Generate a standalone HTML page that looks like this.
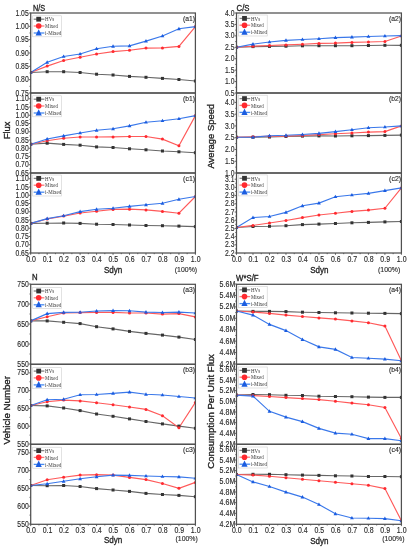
<!DOCTYPE html>
<html><head><meta charset="utf-8"><style>
html,body{margin:0;padding:0;background:#fff;width:410px;height:550px;overflow:hidden}
svg{display:block;will-change:transform}
text{lengthAdjust:spacingAndGlyphs}
.t{font-family:"Liberation Sans",sans-serif;fill:#2a2a2a;stroke:#2a2a2a;stroke-width:0.14px}
.b{font-family:"Liberation Sans",sans-serif;fill:#222;stroke:#222;stroke-width:0.32px}
.s{font-family:"Liberation Serif",serif;fill:#3a3a3a}
</style></head><body>
<svg width="410" height="550" viewBox="0 0 410 550">
<rect width="410" height="550" fill="#fff"/>
<rect x="32.70" y="15.80" width="28.7" height="21.0" fill="#fff" stroke="#d0d0d0" stroke-width="0.6"/>
<path d="M33.70 19.20H44.40" stroke="#858585" stroke-width="1.3"/>
<path d="M33.70 26.00H44.40" stroke="#ff7a7a" stroke-width="1.3"/>
<path d="M33.70 33.00H44.40" stroke="#4a8cf0" stroke-width="1.3"/>
<g fill="#333333"><rect x="36.30" y="16.80" width="4.80" height="4.80"/></g>
<g fill="#ff2a30"><circle cx="38.70" cy="26.00" r="2.80"/></g>
<g fill="#1a5ce0"><path d="M38.70 29.22L41.80 35.52L35.60 35.52Z"/></g>
<text class="s" x="45.10" y="21.40" font-size="6.4" lengthAdjust="spacingAndGlyphs" textLength="9.20">HVs</text>
<text class="s" x="45.10" y="28.20" font-size="6.4" lengthAdjust="spacingAndGlyphs" textLength="12.80">Mixed</text>
<text class="s" x="45.10" y="35.20" font-size="6.4" lengthAdjust="spacingAndGlyphs" textLength="16.20">i-Mixed</text>
<clipPath id="ka1"><rect x="30.70" y="13.00" width="164.70" height="80.00"/></clipPath><g clip-path="url(#ka1)">
<polyline points="30.70,72.50 47.17,71.70 63.64,71.70 80.11,72.50 96.58,74.20 113.05,75.00 129.52,76.40 145.99,77.30 162.46,78.40 178.93,79.50 195.40,81.00" fill="none" stroke="#666666" stroke-width="1.15"/>
<polyline points="30.70,72.50 47.17,66.10 63.64,60.50 80.11,57.20 96.58,54.00 113.05,51.60 129.52,50.30 145.99,48.10 162.46,47.90 178.93,46.40 195.40,26.60" fill="none" stroke="#ff5a5a" stroke-width="1.15"/>
<polyline points="30.70,72.50 47.17,62.30 63.64,56.50 80.11,54.00 96.58,48.70 113.05,46.30 129.52,45.90 145.99,41.10 162.46,36.00 178.93,28.80 195.40,26.60" fill="none" stroke="#3a78ea" stroke-width="1.15"/>
<g fill="#333333"><rect x="29.20" y="71.00" width="3.00" height="3.00"/><rect x="45.67" y="70.20" width="3.00" height="3.00"/><rect x="62.14" y="70.20" width="3.00" height="3.00"/><rect x="78.61" y="71.00" width="3.00" height="3.00"/><rect x="95.08" y="72.70" width="3.00" height="3.00"/><rect x="111.55" y="73.50" width="3.00" height="3.00"/><rect x="128.02" y="74.90" width="3.00" height="3.00"/><rect x="144.49" y="75.80" width="3.00" height="3.00"/><rect x="160.96" y="76.90" width="3.00" height="3.00"/><rect x="177.43" y="78.00" width="3.00" height="3.00"/><rect x="193.90" y="79.50" width="3.00" height="3.00"/></g>
<g fill="#ff2a30"><circle cx="30.70" cy="72.50" r="1.50"/><circle cx="47.17" cy="66.10" r="1.50"/><circle cx="63.64" cy="60.50" r="1.50"/><circle cx="80.11" cy="57.20" r="1.50"/><circle cx="96.58" cy="54.00" r="1.50"/><circle cx="113.05" cy="51.60" r="1.50"/><circle cx="129.52" cy="50.30" r="1.50"/><circle cx="145.99" cy="48.10" r="1.50"/><circle cx="162.46" cy="47.90" r="1.50"/><circle cx="178.93" cy="46.40" r="1.50"/><circle cx="195.40" cy="26.60" r="1.50"/></g>
<g fill="#1a5ce0"><path d="M30.70 70.46L32.60 73.86L28.80 73.86Z"/><path d="M47.17 60.26L49.07 63.66L45.27 63.66Z"/><path d="M63.64 54.46L65.54 57.86L61.74 57.86Z"/><path d="M80.11 51.96L82.01 55.36L78.21 55.36Z"/><path d="M96.58 46.66L98.48 50.06L94.68 50.06Z"/><path d="M113.05 44.26L114.95 47.66L111.15 47.66Z"/><path d="M129.52 43.86L131.42 47.26L127.62 47.26Z"/><path d="M145.99 39.06L147.89 42.46L144.09 42.46Z"/><path d="M162.46 33.96L164.36 37.36L160.56 37.36Z"/><path d="M178.93 26.76L180.83 30.16L177.03 30.16Z"/><path d="M195.40 24.56L197.30 27.96L193.50 27.96Z"/></g>
</g>
<rect x="30.70" y="13.00" width="164.70" height="80.00" fill="none" stroke="#505050" stroke-width="1.25"/>
<path d="M28.90 93.00H30.70M28.90 79.67H30.70M28.90 66.33H30.70M28.90 53.00H30.70M28.90 39.67H30.70M28.90 26.33H30.70M28.90 13.00H30.70M29.50 86.33H30.70M29.50 73.00H30.70M29.50 59.67H30.70M29.50 46.33H30.70M29.50 33.00H30.70M29.50 19.67H30.70" stroke="#505050" stroke-width="0.9"/>
<text class="t" x="28.70" y="95.60" font-size="8.4" text-anchor="end" lengthAdjust="spacingAndGlyphs" textLength="13.24">0.75</text>
<text class="t" x="28.70" y="82.27" font-size="8.4" text-anchor="end" lengthAdjust="spacingAndGlyphs" textLength="13.24">0.80</text>
<text class="t" x="28.70" y="68.93" font-size="8.4" text-anchor="end" lengthAdjust="spacingAndGlyphs" textLength="13.24">0.85</text>
<text class="t" x="28.70" y="55.60" font-size="8.4" text-anchor="end" lengthAdjust="spacingAndGlyphs" textLength="13.24">0.90</text>
<text class="t" x="28.70" y="42.27" font-size="8.4" text-anchor="end" lengthAdjust="spacingAndGlyphs" textLength="13.24">0.95</text>
<text class="t" x="28.70" y="28.93" font-size="8.4" text-anchor="end" lengthAdjust="spacingAndGlyphs" textLength="13.24">1.00</text>
<text class="t" x="28.70" y="15.60" font-size="8.4" text-anchor="end" lengthAdjust="spacingAndGlyphs" textLength="13.24">1.05</text>
<text class="t" x="195.10" y="21.00" font-size="8.0" text-anchor="end" lengthAdjust="spacingAndGlyphs" textLength="12.00">(a1)</text>
<rect x="32.70" y="95.80" width="28.7" height="21.0" fill="#fff" stroke="#d0d0d0" stroke-width="0.6"/>
<path d="M33.70 99.20H44.40" stroke="#858585" stroke-width="1.3"/>
<path d="M33.70 106.00H44.40" stroke="#ff7a7a" stroke-width="1.3"/>
<path d="M33.70 113.00H44.40" stroke="#4a8cf0" stroke-width="1.3"/>
<g fill="#333333"><rect x="36.30" y="96.80" width="4.80" height="4.80"/></g>
<g fill="#ff2a30"><circle cx="38.70" cy="106.00" r="2.80"/></g>
<g fill="#1a5ce0"><path d="M38.70 109.22L41.80 115.52L35.60 115.52Z"/></g>
<text class="s" x="45.10" y="101.40" font-size="6.4" lengthAdjust="spacingAndGlyphs" textLength="9.20">HVs</text>
<text class="s" x="45.10" y="108.20" font-size="6.4" lengthAdjust="spacingAndGlyphs" textLength="12.80">Mixed</text>
<text class="s" x="45.10" y="115.20" font-size="6.4" lengthAdjust="spacingAndGlyphs" textLength="16.20">i-Mixed</text>
<clipPath id="kb1"><rect x="30.70" y="93.00" width="164.70" height="80.00"/></clipPath><g clip-path="url(#kb1)">
<polyline points="30.70,144.20 47.17,143.20 63.64,144.40 80.11,145.20 96.58,146.90 113.05,147.50 129.52,148.80 145.99,149.80 162.46,151.00 178.93,151.80 195.40,152.70" fill="none" stroke="#666666" stroke-width="1.15"/>
<polyline points="30.70,144.20 47.17,140.70 63.64,138.20 80.11,137.00 96.58,137.00 113.05,136.90 129.52,136.50 145.99,136.50 162.46,139.10 178.93,145.70 195.40,115.60" fill="none" stroke="#ff5a5a" stroke-width="1.15"/>
<polyline points="30.70,144.20 47.17,139.00 63.64,135.90 80.11,133.00 96.58,130.30 113.05,128.80 129.52,125.90 145.99,122.20 162.46,120.70 178.93,118.70 195.40,115.60" fill="none" stroke="#3a78ea" stroke-width="1.15"/>
<g fill="#333333"><rect x="29.20" y="142.70" width="3.00" height="3.00"/><rect x="45.67" y="141.70" width="3.00" height="3.00"/><rect x="62.14" y="142.90" width="3.00" height="3.00"/><rect x="78.61" y="143.70" width="3.00" height="3.00"/><rect x="95.08" y="145.40" width="3.00" height="3.00"/><rect x="111.55" y="146.00" width="3.00" height="3.00"/><rect x="128.02" y="147.30" width="3.00" height="3.00"/><rect x="144.49" y="148.30" width="3.00" height="3.00"/><rect x="160.96" y="149.50" width="3.00" height="3.00"/><rect x="177.43" y="150.30" width="3.00" height="3.00"/><rect x="193.90" y="151.20" width="3.00" height="3.00"/></g>
<g fill="#ff2a30"><circle cx="30.70" cy="144.20" r="1.50"/><circle cx="47.17" cy="140.70" r="1.50"/><circle cx="63.64" cy="138.20" r="1.50"/><circle cx="80.11" cy="137.00" r="1.50"/><circle cx="96.58" cy="137.00" r="1.50"/><circle cx="113.05" cy="136.90" r="1.50"/><circle cx="129.52" cy="136.50" r="1.50"/><circle cx="145.99" cy="136.50" r="1.50"/><circle cx="162.46" cy="139.10" r="1.50"/><circle cx="178.93" cy="145.70" r="1.50"/><circle cx="195.40" cy="115.60" r="1.50"/></g>
<g fill="#1a5ce0"><path d="M30.70 142.16L32.60 145.56L28.80 145.56Z"/><path d="M47.17 136.96L49.07 140.36L45.27 140.36Z"/><path d="M63.64 133.86L65.54 137.26L61.74 137.26Z"/><path d="M80.11 130.96L82.01 134.36L78.21 134.36Z"/><path d="M96.58 128.26L98.48 131.66L94.68 131.66Z"/><path d="M113.05 126.76L114.95 130.16L111.15 130.16Z"/><path d="M129.52 123.86L131.42 127.26L127.62 127.26Z"/><path d="M145.99 120.16L147.89 123.56L144.09 123.56Z"/><path d="M162.46 118.66L164.36 122.06L160.56 122.06Z"/><path d="M178.93 116.66L180.83 120.06L177.03 120.06Z"/><path d="M195.40 113.56L197.30 116.96L193.50 116.96Z"/></g>
</g>
<rect x="30.70" y="93.00" width="164.70" height="80.00" fill="none" stroke="#505050" stroke-width="1.25"/>
<path d="M28.90 173.00H30.70M28.90 164.75H30.70M28.90 156.50H30.70M28.90 148.25H30.70M28.90 140.00H30.70M28.90 131.75H30.70M28.90 123.50H30.70M28.90 115.25H30.70M28.90 107.00H30.70M28.90 98.75H30.70M29.50 168.88H30.70M29.50 160.62H30.70M29.50 152.38H30.70M29.50 144.12H30.70M29.50 135.88H30.70M29.50 127.62H30.70M29.50 119.37H30.70M29.50 111.13H30.70M29.50 102.87H30.70" stroke="#505050" stroke-width="0.9"/>
<text class="t" x="28.70" y="175.60" font-size="8.4" text-anchor="end" lengthAdjust="spacingAndGlyphs" textLength="13.24">0.65</text>
<text class="t" x="28.70" y="167.35" font-size="8.4" text-anchor="end" lengthAdjust="spacingAndGlyphs" textLength="13.24">0.70</text>
<text class="t" x="28.70" y="159.10" font-size="8.4" text-anchor="end" lengthAdjust="spacingAndGlyphs" textLength="13.24">0.75</text>
<text class="t" x="28.70" y="150.85" font-size="8.4" text-anchor="end" lengthAdjust="spacingAndGlyphs" textLength="13.24">0.80</text>
<text class="t" x="28.70" y="142.60" font-size="8.4" text-anchor="end" lengthAdjust="spacingAndGlyphs" textLength="13.24">0.85</text>
<text class="t" x="28.70" y="134.35" font-size="8.4" text-anchor="end" lengthAdjust="spacingAndGlyphs" textLength="13.24">0.90</text>
<text class="t" x="28.70" y="126.10" font-size="8.4" text-anchor="end" lengthAdjust="spacingAndGlyphs" textLength="13.24">0.95</text>
<text class="t" x="28.70" y="117.85" font-size="8.4" text-anchor="end" lengthAdjust="spacingAndGlyphs" textLength="13.24">1.00</text>
<text class="t" x="28.70" y="109.60" font-size="8.4" text-anchor="end" lengthAdjust="spacingAndGlyphs" textLength="13.24">1.05</text>
<text class="t" x="28.70" y="101.35" font-size="8.4" text-anchor="end" lengthAdjust="spacingAndGlyphs" textLength="13.24">1.10</text>
<text class="t" x="195.10" y="101.00" font-size="8.0" text-anchor="end" lengthAdjust="spacingAndGlyphs" textLength="12.00">(b1)</text>
<rect x="32.70" y="175.00" width="28.7" height="21.0" fill="#fff" stroke="#d0d0d0" stroke-width="0.6"/>
<path d="M33.70 178.40H44.40" stroke="#858585" stroke-width="1.3"/>
<path d="M33.70 185.20H44.40" stroke="#ff7a7a" stroke-width="1.3"/>
<path d="M33.70 192.20H44.40" stroke="#4a8cf0" stroke-width="1.3"/>
<g fill="#333333"><rect x="36.30" y="176.00" width="4.80" height="4.80"/></g>
<g fill="#ff2a30"><circle cx="38.70" cy="185.20" r="2.80"/></g>
<g fill="#1a5ce0"><path d="M38.70 188.42L41.80 194.72L35.60 194.72Z"/></g>
<text class="s" x="45.10" y="180.60" font-size="6.4" lengthAdjust="spacingAndGlyphs" textLength="9.20">HVs</text>
<text class="s" x="45.10" y="187.40" font-size="6.4" lengthAdjust="spacingAndGlyphs" textLength="12.80">Mixed</text>
<text class="s" x="45.10" y="194.40" font-size="6.4" lengthAdjust="spacingAndGlyphs" textLength="16.20">i-Mixed</text>
<clipPath id="kc1"><rect x="30.70" y="173.00" width="164.70" height="80.00"/></clipPath><g clip-path="url(#kc1)">
<polyline points="30.70,223.40 47.17,223.20 63.64,223.00 80.11,223.40 96.58,224.20 113.05,224.50 129.52,225.00 145.99,225.50 162.46,225.70 178.93,226.10 195.40,226.60" fill="none" stroke="#666666" stroke-width="1.15"/>
<polyline points="30.70,223.40 47.17,219.00 63.64,216.10 80.11,213.00 96.58,211.30 113.05,209.40 129.52,209.20 145.99,209.90 162.46,211.40 178.93,213.20 195.40,196.50" fill="none" stroke="#ff5a5a" stroke-width="1.15"/>
<polyline points="30.70,223.40 47.17,218.60 63.64,215.70 80.11,211.60 96.58,209.30 113.05,208.20 129.52,206.40 145.99,204.80 162.46,203.30 178.93,199.30 195.40,196.50" fill="none" stroke="#3a78ea" stroke-width="1.15"/>
<g fill="#333333"><rect x="29.20" y="221.90" width="3.00" height="3.00"/><rect x="45.67" y="221.70" width="3.00" height="3.00"/><rect x="62.14" y="221.50" width="3.00" height="3.00"/><rect x="78.61" y="221.90" width="3.00" height="3.00"/><rect x="95.08" y="222.70" width="3.00" height="3.00"/><rect x="111.55" y="223.00" width="3.00" height="3.00"/><rect x="128.02" y="223.50" width="3.00" height="3.00"/><rect x="144.49" y="224.00" width="3.00" height="3.00"/><rect x="160.96" y="224.20" width="3.00" height="3.00"/><rect x="177.43" y="224.60" width="3.00" height="3.00"/><rect x="193.90" y="225.10" width="3.00" height="3.00"/></g>
<g fill="#ff2a30"><circle cx="30.70" cy="223.40" r="1.50"/><circle cx="47.17" cy="219.00" r="1.50"/><circle cx="63.64" cy="216.10" r="1.50"/><circle cx="80.11" cy="213.00" r="1.50"/><circle cx="96.58" cy="211.30" r="1.50"/><circle cx="113.05" cy="209.40" r="1.50"/><circle cx="129.52" cy="209.20" r="1.50"/><circle cx="145.99" cy="209.90" r="1.50"/><circle cx="162.46" cy="211.40" r="1.50"/><circle cx="178.93" cy="213.20" r="1.50"/><circle cx="195.40" cy="196.50" r="1.50"/></g>
<g fill="#1a5ce0"><path d="M30.70 221.36L32.60 224.76L28.80 224.76Z"/><path d="M47.17 216.56L49.07 219.96L45.27 219.96Z"/><path d="M63.64 213.66L65.54 217.06L61.74 217.06Z"/><path d="M80.11 209.56L82.01 212.96L78.21 212.96Z"/><path d="M96.58 207.26L98.48 210.66L94.68 210.66Z"/><path d="M113.05 206.16L114.95 209.56L111.15 209.56Z"/><path d="M129.52 204.36L131.42 207.76L127.62 207.76Z"/><path d="M145.99 202.76L147.89 206.16L144.09 206.16Z"/><path d="M162.46 201.26L164.36 204.66L160.56 204.66Z"/><path d="M178.93 197.26L180.83 200.66L177.03 200.66Z"/><path d="M195.40 194.46L197.30 197.86L193.50 197.86Z"/></g>
</g>
<rect x="30.70" y="173.00" width="164.70" height="80.00" fill="none" stroke="#505050" stroke-width="1.25"/>
<path d="M28.90 253.00H30.70M28.90 244.75H30.70M28.90 236.50H30.70M28.90 228.25H30.70M28.90 220.00H30.70M28.90 211.75H30.70M28.90 203.50H30.70M28.90 195.25H30.70M28.90 187.00H30.70M28.90 178.75H30.70M29.50 248.88H30.70M29.50 240.62H30.70M29.50 232.38H30.70M29.50 224.12H30.70M29.50 215.88H30.70M29.50 207.62H30.70M29.50 199.38H30.70M29.50 191.13H30.70M29.50 182.87H30.70" stroke="#505050" stroke-width="0.9"/>
<text class="t" x="28.70" y="255.60" font-size="8.4" text-anchor="end" lengthAdjust="spacingAndGlyphs" textLength="13.24">0.65</text>
<text class="t" x="28.70" y="247.35" font-size="8.4" text-anchor="end" lengthAdjust="spacingAndGlyphs" textLength="13.24">0.70</text>
<text class="t" x="28.70" y="239.10" font-size="8.4" text-anchor="end" lengthAdjust="spacingAndGlyphs" textLength="13.24">0.75</text>
<text class="t" x="28.70" y="230.85" font-size="8.4" text-anchor="end" lengthAdjust="spacingAndGlyphs" textLength="13.24">0.80</text>
<text class="t" x="28.70" y="222.60" font-size="8.4" text-anchor="end" lengthAdjust="spacingAndGlyphs" textLength="13.24">0.85</text>
<text class="t" x="28.70" y="214.35" font-size="8.4" text-anchor="end" lengthAdjust="spacingAndGlyphs" textLength="13.24">0.90</text>
<text class="t" x="28.70" y="206.10" font-size="8.4" text-anchor="end" lengthAdjust="spacingAndGlyphs" textLength="13.24">0.95</text>
<text class="t" x="28.70" y="197.85" font-size="8.4" text-anchor="end" lengthAdjust="spacingAndGlyphs" textLength="13.24">1.00</text>
<text class="t" x="28.70" y="189.60" font-size="8.4" text-anchor="end" lengthAdjust="spacingAndGlyphs" textLength="13.24">1.05</text>
<text class="t" x="28.70" y="181.35" font-size="8.4" text-anchor="end" lengthAdjust="spacingAndGlyphs" textLength="13.24">1.10</text>
<text class="t" x="195.10" y="181.00" font-size="8.0" text-anchor="end" lengthAdjust="spacingAndGlyphs" textLength="12.00">(c1)</text>
<rect x="238.50" y="15.00" width="28.7" height="21.0" fill="#fff" stroke="#d0d0d0" stroke-width="0.6"/>
<path d="M239.50 18.40H250.20" stroke="#858585" stroke-width="1.3"/>
<path d="M239.50 25.20H250.20" stroke="#ff7a7a" stroke-width="1.3"/>
<path d="M239.50 32.20H250.20" stroke="#4a8cf0" stroke-width="1.3"/>
<g fill="#333333"><rect x="242.10" y="16.00" width="4.80" height="4.80"/></g>
<g fill="#ff2a30"><circle cx="244.50" cy="25.20" r="2.80"/></g>
<g fill="#1a5ce0"><path d="M244.50 28.42L247.60 34.72L241.40 34.72Z"/></g>
<text class="s" x="250.90" y="20.60" font-size="6.4" lengthAdjust="spacingAndGlyphs" textLength="9.20">HVs</text>
<text class="s" x="250.90" y="27.40" font-size="6.4" lengthAdjust="spacingAndGlyphs" textLength="12.80">Mixed</text>
<text class="s" x="250.90" y="34.40" font-size="6.4" lengthAdjust="spacingAndGlyphs" textLength="16.20">i-Mixed</text>
<clipPath id="ka2"><rect x="236.50" y="13.00" width="164.90" height="80.00"/></clipPath><g clip-path="url(#ka2)">
<polyline points="236.50,47.20 252.99,46.60 269.48,46.40 285.97,46.20 302.46,45.80 318.95,45.70 335.44,45.70 351.93,45.70 368.42,45.50 384.91,45.30 401.40,45.30" fill="none" stroke="#666666" stroke-width="1.15"/>
<polyline points="236.50,47.20 252.99,46.20 269.48,45.50 285.97,44.90 302.46,44.30 318.95,43.40 335.44,43.10 351.93,42.40 368.42,42.00 384.91,41.50 401.40,36.00" fill="none" stroke="#ff5a5a" stroke-width="1.15"/>
<polyline points="236.50,47.20 252.99,44.10 269.48,42.00 285.97,40.40 302.46,39.50 318.95,38.70 335.44,37.60 351.93,37.10 368.42,36.50 384.91,36.00 401.40,35.60" fill="none" stroke="#3a78ea" stroke-width="1.15"/>
<g fill="#333333"><rect x="235.00" y="45.70" width="3.00" height="3.00"/><rect x="251.49" y="45.10" width="3.00" height="3.00"/><rect x="267.98" y="44.90" width="3.00" height="3.00"/><rect x="284.47" y="44.70" width="3.00" height="3.00"/><rect x="300.96" y="44.30" width="3.00" height="3.00"/><rect x="317.45" y="44.20" width="3.00" height="3.00"/><rect x="333.94" y="44.20" width="3.00" height="3.00"/><rect x="350.43" y="44.20" width="3.00" height="3.00"/><rect x="366.92" y="44.00" width="3.00" height="3.00"/><rect x="383.41" y="43.80" width="3.00" height="3.00"/><rect x="399.90" y="43.80" width="3.00" height="3.00"/></g>
<g fill="#ff2a30"><circle cx="236.50" cy="47.20" r="1.50"/><circle cx="252.99" cy="46.20" r="1.50"/><circle cx="269.48" cy="45.50" r="1.50"/><circle cx="285.97" cy="44.90" r="1.50"/><circle cx="302.46" cy="44.30" r="1.50"/><circle cx="318.95" cy="43.40" r="1.50"/><circle cx="335.44" cy="43.10" r="1.50"/><circle cx="351.93" cy="42.40" r="1.50"/><circle cx="368.42" cy="42.00" r="1.50"/><circle cx="384.91" cy="41.50" r="1.50"/><circle cx="401.40" cy="36.00" r="1.50"/></g>
<g fill="#1a5ce0"><path d="M236.50 45.16L238.40 48.56L234.60 48.56Z"/><path d="M252.99 42.06L254.89 45.46L251.09 45.46Z"/><path d="M269.48 39.96L271.38 43.36L267.58 43.36Z"/><path d="M285.97 38.36L287.87 41.76L284.07 41.76Z"/><path d="M302.46 37.46L304.36 40.86L300.56 40.86Z"/><path d="M318.95 36.66L320.85 40.06L317.05 40.06Z"/><path d="M335.44 35.56L337.34 38.96L333.54 38.96Z"/><path d="M351.93 35.06L353.83 38.46L350.03 38.46Z"/><path d="M368.42 34.46L370.32 37.86L366.52 37.86Z"/><path d="M384.91 33.96L386.81 37.36L383.01 37.36Z"/><path d="M401.40 33.56L403.30 36.96L399.50 36.96Z"/></g>
</g>
<rect x="236.50" y="13.00" width="164.90" height="80.00" fill="none" stroke="#505050" stroke-width="1.25"/>
<path d="M234.70 93.00H236.50M234.70 81.57H236.50M234.70 70.14H236.50M234.70 58.71H236.50M234.70 47.29H236.50M234.70 35.86H236.50M234.70 24.43H236.50M234.70 13.00H236.50M235.30 87.29H236.50M235.30 75.86H236.50M235.30 64.43H236.50M235.30 53.00H236.50M235.30 41.57H236.50M235.30 30.14H236.50M235.30 18.71H236.50" stroke="#505050" stroke-width="0.9"/>
<text class="t" x="234.50" y="95.60" font-size="8.4" text-anchor="end" lengthAdjust="spacingAndGlyphs" textLength="9.46">0.5</text>
<text class="t" x="234.50" y="84.17" font-size="8.4" text-anchor="end" lengthAdjust="spacingAndGlyphs" textLength="9.46">1.0</text>
<text class="t" x="234.50" y="72.74" font-size="8.4" text-anchor="end" lengthAdjust="spacingAndGlyphs" textLength="9.46">1.5</text>
<text class="t" x="234.50" y="61.31" font-size="8.4" text-anchor="end" lengthAdjust="spacingAndGlyphs" textLength="9.46">2.0</text>
<text class="t" x="234.50" y="49.89" font-size="8.4" text-anchor="end" lengthAdjust="spacingAndGlyphs" textLength="9.46">2.5</text>
<text class="t" x="234.50" y="38.46" font-size="8.4" text-anchor="end" lengthAdjust="spacingAndGlyphs" textLength="9.46">3.0</text>
<text class="t" x="234.50" y="27.03" font-size="8.4" text-anchor="end" lengthAdjust="spacingAndGlyphs" textLength="9.46">3.5</text>
<text class="t" x="234.50" y="15.60" font-size="8.4" text-anchor="end" lengthAdjust="spacingAndGlyphs" textLength="9.46">4.0</text>
<text class="t" x="401.10" y="21.00" font-size="8.0" text-anchor="end" lengthAdjust="spacingAndGlyphs" textLength="12.00">(a2)</text>
<rect x="238.50" y="95.20" width="28.7" height="21.0" fill="#fff" stroke="#d0d0d0" stroke-width="0.6"/>
<path d="M239.50 98.60H250.20" stroke="#858585" stroke-width="1.3"/>
<path d="M239.50 105.40H250.20" stroke="#ff7a7a" stroke-width="1.3"/>
<path d="M239.50 112.40H250.20" stroke="#4a8cf0" stroke-width="1.3"/>
<g fill="#333333"><rect x="242.10" y="96.20" width="4.80" height="4.80"/></g>
<g fill="#ff2a30"><circle cx="244.50" cy="105.40" r="2.80"/></g>
<g fill="#1a5ce0"><path d="M244.50 108.62L247.60 114.92L241.40 114.92Z"/></g>
<text class="s" x="250.90" y="100.80" font-size="6.4" lengthAdjust="spacingAndGlyphs" textLength="9.20">HVs</text>
<text class="s" x="250.90" y="107.60" font-size="6.4" lengthAdjust="spacingAndGlyphs" textLength="12.80">Mixed</text>
<text class="s" x="250.90" y="114.60" font-size="6.4" lengthAdjust="spacingAndGlyphs" textLength="16.20">i-Mixed</text>
<clipPath id="kb2"><rect x="236.50" y="93.00" width="164.90" height="80.00"/></clipPath><g clip-path="url(#kb2)">
<polyline points="236.50,137.20 252.99,137.20 269.48,137.00 285.97,136.50 302.46,136.10 318.95,135.90 335.44,136.00 351.93,135.80 368.42,135.60 384.91,135.40 401.40,135.10" fill="none" stroke="#666666" stroke-width="1.15"/>
<polyline points="236.50,137.20 252.99,136.70 269.48,136.30 285.97,136.10 302.46,135.50 318.95,134.60 335.44,133.80 351.93,133.00 368.42,132.10 384.91,131.60 401.40,125.90" fill="none" stroke="#ff5a5a" stroke-width="1.15"/>
<polyline points="236.50,137.20 252.99,137.20 269.48,135.70 285.97,135.30 302.46,134.50 318.95,133.40 335.44,131.60 351.93,129.70 368.42,127.70 384.91,127.00 401.40,125.90" fill="none" stroke="#3a78ea" stroke-width="1.15"/>
<g fill="#333333"><rect x="235.00" y="135.70" width="3.00" height="3.00"/><rect x="251.49" y="135.70" width="3.00" height="3.00"/><rect x="267.98" y="135.50" width="3.00" height="3.00"/><rect x="284.47" y="135.00" width="3.00" height="3.00"/><rect x="300.96" y="134.60" width="3.00" height="3.00"/><rect x="317.45" y="134.40" width="3.00" height="3.00"/><rect x="333.94" y="134.50" width="3.00" height="3.00"/><rect x="350.43" y="134.30" width="3.00" height="3.00"/><rect x="366.92" y="134.10" width="3.00" height="3.00"/><rect x="383.41" y="133.90" width="3.00" height="3.00"/><rect x="399.90" y="133.60" width="3.00" height="3.00"/></g>
<g fill="#ff2a30"><circle cx="236.50" cy="137.20" r="1.50"/><circle cx="252.99" cy="136.70" r="1.50"/><circle cx="269.48" cy="136.30" r="1.50"/><circle cx="285.97" cy="136.10" r="1.50"/><circle cx="302.46" cy="135.50" r="1.50"/><circle cx="318.95" cy="134.60" r="1.50"/><circle cx="335.44" cy="133.80" r="1.50"/><circle cx="351.93" cy="133.00" r="1.50"/><circle cx="368.42" cy="132.10" r="1.50"/><circle cx="384.91" cy="131.60" r="1.50"/><circle cx="401.40" cy="125.90" r="1.50"/></g>
<g fill="#1a5ce0"><path d="M236.50 135.16L238.40 138.56L234.60 138.56Z"/><path d="M252.99 135.16L254.89 138.56L251.09 138.56Z"/><path d="M269.48 133.66L271.38 137.06L267.58 137.06Z"/><path d="M285.97 133.26L287.87 136.66L284.07 136.66Z"/><path d="M302.46 132.46L304.36 135.86L300.56 135.86Z"/><path d="M318.95 131.36L320.85 134.76L317.05 134.76Z"/><path d="M335.44 129.56L337.34 132.96L333.54 132.96Z"/><path d="M351.93 127.66L353.83 131.06L350.03 131.06Z"/><path d="M368.42 125.66L370.32 129.06L366.52 129.06Z"/><path d="M384.91 124.96L386.81 128.36L383.01 128.36Z"/><path d="M401.40 123.86L403.30 127.26L399.50 127.26Z"/></g>
</g>
<rect x="236.50" y="93.00" width="164.90" height="80.00" fill="none" stroke="#505050" stroke-width="1.25"/>
<path d="M234.70 173.00H236.50M234.70 161.24H236.50M234.70 149.47H236.50M234.70 137.71H236.50M234.70 125.94H236.50M234.70 114.18H236.50M234.70 102.41H236.50M235.30 167.12H236.50M235.30 155.35H236.50M235.30 143.59H236.50M235.30 131.82H236.50M235.30 120.06H236.50M235.30 108.29H236.50" stroke="#505050" stroke-width="0.9"/>
<text class="t" x="234.50" y="175.60" font-size="8.4" text-anchor="end" lengthAdjust="spacingAndGlyphs" textLength="9.46">1.0</text>
<text class="t" x="234.50" y="163.84" font-size="8.4" text-anchor="end" lengthAdjust="spacingAndGlyphs" textLength="9.46">1.5</text>
<text class="t" x="234.50" y="152.07" font-size="8.4" text-anchor="end" lengthAdjust="spacingAndGlyphs" textLength="9.46">2.0</text>
<text class="t" x="234.50" y="140.31" font-size="8.4" text-anchor="end" lengthAdjust="spacingAndGlyphs" textLength="9.46">2.5</text>
<text class="t" x="234.50" y="128.54" font-size="8.4" text-anchor="end" lengthAdjust="spacingAndGlyphs" textLength="9.46">3.0</text>
<text class="t" x="234.50" y="116.78" font-size="8.4" text-anchor="end" lengthAdjust="spacingAndGlyphs" textLength="9.46">3.5</text>
<text class="t" x="234.50" y="105.01" font-size="8.4" text-anchor="end" lengthAdjust="spacingAndGlyphs" textLength="9.46">4.0</text>
<text class="t" x="401.10" y="101.00" font-size="8.0" text-anchor="end" lengthAdjust="spacingAndGlyphs" textLength="12.00">(b2)</text>
<rect x="238.50" y="174.90" width="28.7" height="21.0" fill="#fff" stroke="#d0d0d0" stroke-width="0.6"/>
<path d="M239.50 178.30H250.20" stroke="#858585" stroke-width="1.3"/>
<path d="M239.50 185.10H250.20" stroke="#ff7a7a" stroke-width="1.3"/>
<path d="M239.50 192.10H250.20" stroke="#4a8cf0" stroke-width="1.3"/>
<g fill="#333333"><rect x="242.10" y="175.90" width="4.80" height="4.80"/></g>
<g fill="#ff2a30"><circle cx="244.50" cy="185.10" r="2.80"/></g>
<g fill="#1a5ce0"><path d="M244.50 188.32L247.60 194.62L241.40 194.62Z"/></g>
<text class="s" x="250.90" y="180.50" font-size="6.4" lengthAdjust="spacingAndGlyphs" textLength="9.20">HVs</text>
<text class="s" x="250.90" y="187.30" font-size="6.4" lengthAdjust="spacingAndGlyphs" textLength="12.80">Mixed</text>
<text class="s" x="250.90" y="194.30" font-size="6.4" lengthAdjust="spacingAndGlyphs" textLength="16.20">i-Mixed</text>
<clipPath id="kc2"><rect x="236.50" y="173.00" width="164.90" height="80.00"/></clipPath><g clip-path="url(#kc2)">
<polyline points="236.50,227.50 252.99,226.50 269.48,226.30 285.97,225.70 302.46,224.60 318.95,224.10 335.44,223.50 351.93,222.80 368.42,222.40 384.91,221.90 401.40,221.50" fill="none" stroke="#666666" stroke-width="1.15"/>
<polyline points="236.50,227.50 252.99,225.40 269.48,223.00 285.97,220.50 302.46,217.60 318.95,215.00 335.44,213.20 351.93,211.40 368.42,210.10 384.91,208.30 401.40,187.90" fill="none" stroke="#ff5a5a" stroke-width="1.15"/>
<polyline points="236.50,227.50 252.99,217.60 269.48,216.50 285.97,212.40 302.46,205.80 318.95,203.10 335.44,196.70 351.93,195.00 368.42,193.40 384.91,190.60 401.40,187.90" fill="none" stroke="#3a78ea" stroke-width="1.15"/>
<g fill="#333333"><rect x="235.00" y="226.00" width="3.00" height="3.00"/><rect x="251.49" y="225.00" width="3.00" height="3.00"/><rect x="267.98" y="224.80" width="3.00" height="3.00"/><rect x="284.47" y="224.20" width="3.00" height="3.00"/><rect x="300.96" y="223.10" width="3.00" height="3.00"/><rect x="317.45" y="222.60" width="3.00" height="3.00"/><rect x="333.94" y="222.00" width="3.00" height="3.00"/><rect x="350.43" y="221.30" width="3.00" height="3.00"/><rect x="366.92" y="220.90" width="3.00" height="3.00"/><rect x="383.41" y="220.40" width="3.00" height="3.00"/><rect x="399.90" y="220.00" width="3.00" height="3.00"/></g>
<g fill="#ff2a30"><circle cx="236.50" cy="227.50" r="1.50"/><circle cx="252.99" cy="225.40" r="1.50"/><circle cx="269.48" cy="223.00" r="1.50"/><circle cx="285.97" cy="220.50" r="1.50"/><circle cx="302.46" cy="217.60" r="1.50"/><circle cx="318.95" cy="215.00" r="1.50"/><circle cx="335.44" cy="213.20" r="1.50"/><circle cx="351.93" cy="211.40" r="1.50"/><circle cx="368.42" cy="210.10" r="1.50"/><circle cx="384.91" cy="208.30" r="1.50"/><circle cx="401.40" cy="187.90" r="1.50"/></g>
<g fill="#1a5ce0"><path d="M236.50 225.46L238.40 228.86L234.60 228.86Z"/><path d="M252.99 215.56L254.89 218.96L251.09 218.96Z"/><path d="M269.48 214.46L271.38 217.86L267.58 217.86Z"/><path d="M285.97 210.36L287.87 213.76L284.07 213.76Z"/><path d="M302.46 203.76L304.36 207.16L300.56 207.16Z"/><path d="M318.95 201.06L320.85 204.46L317.05 204.46Z"/><path d="M335.44 194.66L337.34 198.06L333.54 198.06Z"/><path d="M351.93 192.96L353.83 196.36L350.03 196.36Z"/><path d="M368.42 191.36L370.32 194.76L366.52 194.76Z"/><path d="M384.91 188.56L386.81 191.96L383.01 191.96Z"/><path d="M401.40 185.86L403.30 189.26L399.50 189.26Z"/></g>
</g>
<rect x="236.50" y="173.00" width="164.90" height="80.00" fill="none" stroke="#505050" stroke-width="1.25"/>
<path d="M234.70 253.00H236.50M234.70 244.80H236.50M234.70 236.60H236.50M234.70 228.40H236.50M234.70 220.20H236.50M234.70 212.00H236.50M234.70 203.80H236.50M234.70 195.60H236.50M234.70 187.40H236.50M234.70 179.20H236.50M235.30 248.90H236.50M235.30 240.70H236.50M235.30 232.50H236.50M235.30 224.30H236.50M235.30 216.10H236.50M235.30 207.90H236.50M235.30 199.70H236.50M235.30 191.50H236.50M235.30 183.30H236.50" stroke="#505050" stroke-width="0.9"/>
<text class="t" x="234.50" y="255.60" font-size="8.4" text-anchor="end" lengthAdjust="spacingAndGlyphs" textLength="9.46">2.2</text>
<text class="t" x="234.50" y="247.40" font-size="8.4" text-anchor="end" lengthAdjust="spacingAndGlyphs" textLength="9.46">2.3</text>
<text class="t" x="234.50" y="239.20" font-size="8.4" text-anchor="end" lengthAdjust="spacingAndGlyphs" textLength="9.46">2.4</text>
<text class="t" x="234.50" y="231.00" font-size="8.4" text-anchor="end" lengthAdjust="spacingAndGlyphs" textLength="9.46">2.5</text>
<text class="t" x="234.50" y="222.80" font-size="8.4" text-anchor="end" lengthAdjust="spacingAndGlyphs" textLength="9.46">2.6</text>
<text class="t" x="234.50" y="214.60" font-size="8.4" text-anchor="end" lengthAdjust="spacingAndGlyphs" textLength="9.46">2.7</text>
<text class="t" x="234.50" y="206.40" font-size="8.4" text-anchor="end" lengthAdjust="spacingAndGlyphs" textLength="9.46">2.8</text>
<text class="t" x="234.50" y="198.20" font-size="8.4" text-anchor="end" lengthAdjust="spacingAndGlyphs" textLength="9.46">2.9</text>
<text class="t" x="234.50" y="190.00" font-size="8.4" text-anchor="end" lengthAdjust="spacingAndGlyphs" textLength="9.46">3.0</text>
<text class="t" x="234.50" y="181.80" font-size="8.4" text-anchor="end" lengthAdjust="spacingAndGlyphs" textLength="9.46">3.1</text>
<text class="t" x="401.10" y="181.00" font-size="8.0" text-anchor="end" lengthAdjust="spacingAndGlyphs" textLength="12.00">(c2)</text>
<rect x="32.70" y="287.60" width="28.7" height="21.0" fill="#fff" stroke="#d0d0d0" stroke-width="0.6"/>
<path d="M33.70 291.00H44.40" stroke="#858585" stroke-width="1.3"/>
<path d="M33.70 297.80H44.40" stroke="#ff7a7a" stroke-width="1.3"/>
<path d="M33.70 304.80H44.40" stroke="#4a8cf0" stroke-width="1.3"/>
<g fill="#333333"><rect x="36.30" y="288.60" width="4.80" height="4.80"/></g>
<g fill="#ff2a30"><circle cx="38.70" cy="297.80" r="2.80"/></g>
<g fill="#1a5ce0"><path d="M38.70 301.02L41.80 307.32L35.60 307.32Z"/></g>
<text class="s" x="45.10" y="293.20" font-size="6.4" lengthAdjust="spacingAndGlyphs" textLength="9.20">HVs</text>
<text class="s" x="45.10" y="300.00" font-size="6.4" lengthAdjust="spacingAndGlyphs" textLength="12.80">Mixed</text>
<text class="s" x="45.10" y="307.00" font-size="6.4" lengthAdjust="spacingAndGlyphs" textLength="16.20">i-Mixed</text>
<clipPath id="ka3"><rect x="30.70" y="284.30" width="164.70" height="80.00"/></clipPath><g clip-path="url(#ka3)">
<polyline points="30.70,320.90 47.17,320.90 63.64,322.30 80.11,323.60 96.58,326.70 113.05,328.90 129.52,331.40 145.99,333.40 162.46,335.10 178.93,337.10 195.40,339.50" fill="none" stroke="#666666" stroke-width="1.15"/>
<polyline points="30.70,320.90 47.17,316.80 63.64,313.00 80.11,312.60 96.58,312.40 113.05,312.40 129.52,313.00 145.99,313.00 162.46,314.10 178.93,313.60 195.40,316.90" fill="none" stroke="#ff5a5a" stroke-width="1.15"/>
<polyline points="30.70,320.90 47.17,313.60 63.64,312.40 80.11,312.20 96.58,311.00 113.05,310.60 129.52,310.80 145.99,312.10 162.46,312.50 178.93,312.10 195.40,313.00" fill="none" stroke="#3a78ea" stroke-width="1.15"/>
<g fill="#333333"><rect x="29.20" y="319.40" width="3.00" height="3.00"/><rect x="45.67" y="319.40" width="3.00" height="3.00"/><rect x="62.14" y="320.80" width="3.00" height="3.00"/><rect x="78.61" y="322.10" width="3.00" height="3.00"/><rect x="95.08" y="325.20" width="3.00" height="3.00"/><rect x="111.55" y="327.40" width="3.00" height="3.00"/><rect x="128.02" y="329.90" width="3.00" height="3.00"/><rect x="144.49" y="331.90" width="3.00" height="3.00"/><rect x="160.96" y="333.60" width="3.00" height="3.00"/><rect x="177.43" y="335.60" width="3.00" height="3.00"/><rect x="193.90" y="338.00" width="3.00" height="3.00"/></g>
<g fill="#ff2a30"><circle cx="30.70" cy="320.90" r="1.50"/><circle cx="47.17" cy="316.80" r="1.50"/><circle cx="63.64" cy="313.00" r="1.50"/><circle cx="80.11" cy="312.60" r="1.50"/><circle cx="96.58" cy="312.40" r="1.50"/><circle cx="113.05" cy="312.40" r="1.50"/><circle cx="129.52" cy="313.00" r="1.50"/><circle cx="145.99" cy="313.00" r="1.50"/><circle cx="162.46" cy="314.10" r="1.50"/><circle cx="178.93" cy="313.60" r="1.50"/><circle cx="195.40" cy="316.90" r="1.50"/></g>
<g fill="#1a5ce0"><path d="M30.70 318.86L32.60 322.26L28.80 322.26Z"/><path d="M47.17 311.56L49.07 314.96L45.27 314.96Z"/><path d="M63.64 310.36L65.54 313.76L61.74 313.76Z"/><path d="M80.11 310.16L82.01 313.56L78.21 313.56Z"/><path d="M96.58 308.96L98.48 312.36L94.68 312.36Z"/><path d="M113.05 308.56L114.95 311.96L111.15 311.96Z"/><path d="M129.52 308.76L131.42 312.16L127.62 312.16Z"/><path d="M145.99 310.06L147.89 313.46L144.09 313.46Z"/><path d="M162.46 310.46L164.36 313.86L160.56 313.86Z"/><path d="M178.93 310.06L180.83 313.46L177.03 313.46Z"/><path d="M195.40 310.96L197.30 314.36L193.50 314.36Z"/></g>
</g>
<rect x="30.70" y="284.30" width="164.70" height="80.00" fill="none" stroke="#505050" stroke-width="1.25"/>
<path d="M28.90 364.00H30.70M28.90 344.00H30.70M28.90 324.00H30.70M28.90 304.00H30.70M28.90 284.00H30.70M29.50 354.00H30.70M29.50 334.00H30.70M29.50 314.00H30.70M29.50 294.00H30.70" stroke="#505050" stroke-width="0.9"/>
<text class="t" x="28.70" y="366.60" font-size="8.4" text-anchor="end" lengthAdjust="spacingAndGlyphs" textLength="11.35">550</text>
<text class="t" x="28.70" y="346.60" font-size="8.4" text-anchor="end" lengthAdjust="spacingAndGlyphs" textLength="11.35">600</text>
<text class="t" x="28.70" y="326.60" font-size="8.4" text-anchor="end" lengthAdjust="spacingAndGlyphs" textLength="11.35">650</text>
<text class="t" x="28.70" y="306.60" font-size="8.4" text-anchor="end" lengthAdjust="spacingAndGlyphs" textLength="11.35">700</text>
<text class="t" x="28.70" y="286.60" font-size="8.4" text-anchor="end" lengthAdjust="spacingAndGlyphs" textLength="11.35">750</text>
<text class="t" x="195.10" y="292.30" font-size="8.0" text-anchor="end" lengthAdjust="spacingAndGlyphs" textLength="12.00">(a3)</text>
<rect x="32.70" y="367.70" width="28.7" height="21.0" fill="#fff" stroke="#d0d0d0" stroke-width="0.6"/>
<path d="M33.70 371.10H44.40" stroke="#858585" stroke-width="1.3"/>
<path d="M33.70 377.90H44.40" stroke="#ff7a7a" stroke-width="1.3"/>
<path d="M33.70 384.90H44.40" stroke="#4a8cf0" stroke-width="1.3"/>
<g fill="#333333"><rect x="36.30" y="368.70" width="4.80" height="4.80"/></g>
<g fill="#ff2a30"><circle cx="38.70" cy="377.90" r="2.80"/></g>
<g fill="#1a5ce0"><path d="M38.70 381.12L41.80 387.42L35.60 387.42Z"/></g>
<text class="s" x="45.10" y="373.30" font-size="6.4" lengthAdjust="spacingAndGlyphs" textLength="9.20">HVs</text>
<text class="s" x="45.10" y="380.10" font-size="6.4" lengthAdjust="spacingAndGlyphs" textLength="12.80">Mixed</text>
<text class="s" x="45.10" y="387.10" font-size="6.4" lengthAdjust="spacingAndGlyphs" textLength="16.20">i-Mixed</text>
<clipPath id="kb3"><rect x="30.70" y="364.30" width="164.70" height="80.00"/></clipPath><g clip-path="url(#kb3)">
<polyline points="30.70,405.50 47.17,405.90 63.64,408.00 80.11,410.60 96.58,414.00 113.05,416.30 129.52,418.90 145.99,421.50 162.46,423.90 178.93,426.10 195.40,428.30" fill="none" stroke="#666666" stroke-width="1.15"/>
<polyline points="30.70,405.50 47.17,401.70 63.64,400.10 80.11,400.90 96.58,402.80 113.05,404.80 129.52,407.00 145.99,409.40 162.46,415.80 178.93,427.70 195.40,402.40" fill="none" stroke="#ff5a5a" stroke-width="1.15"/>
<polyline points="30.70,405.50 47.17,399.70 63.64,399.20 80.11,394.70 96.58,394.50 113.05,393.40 129.52,392.10 145.99,394.30 162.46,395.00 178.93,396.50 195.40,398.00" fill="none" stroke="#3a78ea" stroke-width="1.15"/>
<g fill="#333333"><rect x="29.20" y="404.00" width="3.00" height="3.00"/><rect x="45.67" y="404.40" width="3.00" height="3.00"/><rect x="62.14" y="406.50" width="3.00" height="3.00"/><rect x="78.61" y="409.10" width="3.00" height="3.00"/><rect x="95.08" y="412.50" width="3.00" height="3.00"/><rect x="111.55" y="414.80" width="3.00" height="3.00"/><rect x="128.02" y="417.40" width="3.00" height="3.00"/><rect x="144.49" y="420.00" width="3.00" height="3.00"/><rect x="160.96" y="422.40" width="3.00" height="3.00"/><rect x="177.43" y="424.60" width="3.00" height="3.00"/><rect x="193.90" y="426.80" width="3.00" height="3.00"/></g>
<g fill="#ff2a30"><circle cx="30.70" cy="405.50" r="1.50"/><circle cx="47.17" cy="401.70" r="1.50"/><circle cx="63.64" cy="400.10" r="1.50"/><circle cx="80.11" cy="400.90" r="1.50"/><circle cx="96.58" cy="402.80" r="1.50"/><circle cx="113.05" cy="404.80" r="1.50"/><circle cx="129.52" cy="407.00" r="1.50"/><circle cx="145.99" cy="409.40" r="1.50"/><circle cx="162.46" cy="415.80" r="1.50"/><circle cx="178.93" cy="427.70" r="1.50"/><circle cx="195.40" cy="402.40" r="1.50"/></g>
<g fill="#1a5ce0"><path d="M30.70 403.46L32.60 406.86L28.80 406.86Z"/><path d="M47.17 397.66L49.07 401.06L45.27 401.06Z"/><path d="M63.64 397.16L65.54 400.56L61.74 400.56Z"/><path d="M80.11 392.66L82.01 396.06L78.21 396.06Z"/><path d="M96.58 392.46L98.48 395.86L94.68 395.86Z"/><path d="M113.05 391.36L114.95 394.76L111.15 394.76Z"/><path d="M129.52 390.06L131.42 393.46L127.62 393.46Z"/><path d="M145.99 392.26L147.89 395.66L144.09 395.66Z"/><path d="M162.46 392.96L164.36 396.36L160.56 396.36Z"/><path d="M178.93 394.46L180.83 397.86L177.03 397.86Z"/><path d="M195.40 395.96L197.30 399.36L193.50 399.36Z"/></g>
</g>
<rect x="30.70" y="364.30" width="164.70" height="80.00" fill="none" stroke="#505050" stroke-width="1.25"/>
<path d="M28.90 444.00H30.70M28.90 426.22H30.70M28.90 408.44H30.70M28.90 390.67H30.70M28.90 372.89H30.70M29.50 435.11H30.70M29.50 417.33H30.70M29.50 399.56H30.70M29.50 381.78H30.70" stroke="#505050" stroke-width="0.9"/>
<text class="t" x="28.70" y="446.60" font-size="8.4" text-anchor="end" lengthAdjust="spacingAndGlyphs" textLength="11.35">550</text>
<text class="t" x="28.70" y="428.82" font-size="8.4" text-anchor="end" lengthAdjust="spacingAndGlyphs" textLength="11.35">600</text>
<text class="t" x="28.70" y="411.04" font-size="8.4" text-anchor="end" lengthAdjust="spacingAndGlyphs" textLength="11.35">650</text>
<text class="t" x="28.70" y="393.27" font-size="8.4" text-anchor="end" lengthAdjust="spacingAndGlyphs" textLength="11.35">700</text>
<text class="t" x="28.70" y="375.49" font-size="8.4" text-anchor="end" lengthAdjust="spacingAndGlyphs" textLength="11.35">750</text>
<text class="t" x="195.10" y="372.30" font-size="8.0" text-anchor="end" lengthAdjust="spacingAndGlyphs" textLength="12.00">(b3)</text>
<rect x="32.70" y="447.20" width="28.7" height="21.0" fill="#fff" stroke="#d0d0d0" stroke-width="0.6"/>
<path d="M33.70 450.60H44.40" stroke="#858585" stroke-width="1.3"/>
<path d="M33.70 457.40H44.40" stroke="#ff7a7a" stroke-width="1.3"/>
<path d="M33.70 464.40H44.40" stroke="#4a8cf0" stroke-width="1.3"/>
<g fill="#333333"><rect x="36.30" y="448.20" width="4.80" height="4.80"/></g>
<g fill="#ff2a30"><circle cx="38.70" cy="457.40" r="2.80"/></g>
<g fill="#1a5ce0"><path d="M38.70 460.62L41.80 466.92L35.60 466.92Z"/></g>
<text class="s" x="45.10" y="452.80" font-size="6.4" lengthAdjust="spacingAndGlyphs" textLength="9.20">HVs</text>
<text class="s" x="45.10" y="459.60" font-size="6.4" lengthAdjust="spacingAndGlyphs" textLength="12.80">Mixed</text>
<text class="s" x="45.10" y="466.60" font-size="6.4" lengthAdjust="spacingAndGlyphs" textLength="16.20">i-Mixed</text>
<clipPath id="kc3"><rect x="30.70" y="444.30" width="164.70" height="80.00"/></clipPath><g clip-path="url(#kc3)">
<polyline points="30.70,485.50 47.17,485.70 63.64,485.50 80.11,486.50 96.58,488.60 113.05,490.00 129.52,491.40 145.99,493.40 162.46,494.50 178.93,495.40 195.40,496.70" fill="none" stroke="#666666" stroke-width="1.15"/>
<polyline points="30.70,485.50 47.17,479.70 63.64,477.20 80.11,475.10 96.58,474.70 113.05,475.10 129.52,477.40 145.99,479.60 162.46,483.50 178.93,488.30 195.40,482.40" fill="none" stroke="#ff5a5a" stroke-width="1.15"/>
<polyline points="30.70,485.50 47.17,483.80 63.64,481.30 80.11,478.80 96.58,476.80 113.05,475.10 129.52,475.40 145.99,476.00 162.46,476.50 178.93,476.90 195.40,478.20" fill="none" stroke="#3a78ea" stroke-width="1.15"/>
<g fill="#333333"><rect x="29.20" y="484.00" width="3.00" height="3.00"/><rect x="45.67" y="484.20" width="3.00" height="3.00"/><rect x="62.14" y="484.00" width="3.00" height="3.00"/><rect x="78.61" y="485.00" width="3.00" height="3.00"/><rect x="95.08" y="487.10" width="3.00" height="3.00"/><rect x="111.55" y="488.50" width="3.00" height="3.00"/><rect x="128.02" y="489.90" width="3.00" height="3.00"/><rect x="144.49" y="491.90" width="3.00" height="3.00"/><rect x="160.96" y="493.00" width="3.00" height="3.00"/><rect x="177.43" y="493.90" width="3.00" height="3.00"/><rect x="193.90" y="495.20" width="3.00" height="3.00"/></g>
<g fill="#ff2a30"><circle cx="30.70" cy="485.50" r="1.50"/><circle cx="47.17" cy="479.70" r="1.50"/><circle cx="63.64" cy="477.20" r="1.50"/><circle cx="80.11" cy="475.10" r="1.50"/><circle cx="96.58" cy="474.70" r="1.50"/><circle cx="113.05" cy="475.10" r="1.50"/><circle cx="129.52" cy="477.40" r="1.50"/><circle cx="145.99" cy="479.60" r="1.50"/><circle cx="162.46" cy="483.50" r="1.50"/><circle cx="178.93" cy="488.30" r="1.50"/><circle cx="195.40" cy="482.40" r="1.50"/></g>
<g fill="#1a5ce0"><path d="M30.70 483.46L32.60 486.86L28.80 486.86Z"/><path d="M47.17 481.76L49.07 485.16L45.27 485.16Z"/><path d="M63.64 479.26L65.54 482.66L61.74 482.66Z"/><path d="M80.11 476.76L82.01 480.16L78.21 480.16Z"/><path d="M96.58 474.76L98.48 478.16L94.68 478.16Z"/><path d="M113.05 473.06L114.95 476.46L111.15 476.46Z"/><path d="M129.52 473.36L131.42 476.76L127.62 476.76Z"/><path d="M145.99 473.96L147.89 477.36L144.09 477.36Z"/><path d="M162.46 474.46L164.36 477.86L160.56 477.86Z"/><path d="M178.93 474.86L180.83 478.26L177.03 478.26Z"/><path d="M195.40 476.16L197.30 479.56L193.50 479.56Z"/></g>
</g>
<rect x="30.70" y="444.30" width="164.70" height="80.00" fill="none" stroke="#505050" stroke-width="1.25"/>
<path d="M28.90 524.00H30.70M28.90 506.22H30.70M28.90 488.44H30.70M28.90 470.67H30.70M28.90 452.89H30.70M29.50 515.11H30.70M29.50 497.33H30.70M29.50 479.56H30.70M29.50 461.78H30.70" stroke="#505050" stroke-width="0.9"/>
<text class="t" x="28.70" y="526.60" font-size="8.4" text-anchor="end" lengthAdjust="spacingAndGlyphs" textLength="11.35">550</text>
<text class="t" x="28.70" y="508.82" font-size="8.4" text-anchor="end" lengthAdjust="spacingAndGlyphs" textLength="11.35">600</text>
<text class="t" x="28.70" y="491.04" font-size="8.4" text-anchor="end" lengthAdjust="spacingAndGlyphs" textLength="11.35">650</text>
<text class="t" x="28.70" y="473.27" font-size="8.4" text-anchor="end" lengthAdjust="spacingAndGlyphs" textLength="11.35">700</text>
<text class="t" x="28.70" y="455.49" font-size="8.4" text-anchor="end" lengthAdjust="spacingAndGlyphs" textLength="11.35">750</text>
<text class="t" x="195.10" y="452.30" font-size="8.0" text-anchor="end" lengthAdjust="spacingAndGlyphs" textLength="12.00">(c3)</text>
<rect x="238.50" y="286.40" width="28.7" height="21.0" fill="#fff" stroke="#d0d0d0" stroke-width="0.6"/>
<path d="M239.50 289.80H250.20" stroke="#858585" stroke-width="1.3"/>
<path d="M239.50 296.60H250.20" stroke="#ff7a7a" stroke-width="1.3"/>
<path d="M239.50 303.60H250.20" stroke="#4a8cf0" stroke-width="1.3"/>
<g fill="#333333"><rect x="242.10" y="287.40" width="4.80" height="4.80"/></g>
<g fill="#ff2a30"><circle cx="244.50" cy="296.60" r="2.80"/></g>
<g fill="#1a5ce0"><path d="M244.50 299.82L247.60 306.12L241.40 306.12Z"/></g>
<text class="s" x="250.90" y="292.00" font-size="6.4" lengthAdjust="spacingAndGlyphs" textLength="9.20">HVs</text>
<text class="s" x="250.90" y="298.80" font-size="6.4" lengthAdjust="spacingAndGlyphs" textLength="12.80">Mixed</text>
<text class="s" x="250.90" y="305.80" font-size="6.4" lengthAdjust="spacingAndGlyphs" textLength="16.20">i-Mixed</text>
<clipPath id="ka4"><rect x="236.50" y="284.30" width="164.90" height="80.00"/></clipPath><g clip-path="url(#ka4)">
<polyline points="236.50,311.00 252.99,311.40 269.48,311.40 285.97,311.60 302.46,312.20 318.95,312.50 335.44,312.80 351.93,313.00 368.42,313.20 384.91,313.40 401.40,313.60" fill="none" stroke="#666666" stroke-width="1.15"/>
<polyline points="236.50,311.00 252.99,312.00 269.48,313.40 285.97,315.10 302.46,316.50 318.95,317.90 335.44,319.10 351.93,320.90 368.42,322.80 384.91,326.10 401.40,360.80" fill="none" stroke="#ff5a5a" stroke-width="1.15"/>
<polyline points="236.50,311.00 252.99,315.10 269.48,324.40 285.97,330.60 302.46,339.60 318.95,346.90 335.44,349.40 351.93,357.50 368.42,358.20 384.91,359.10 401.40,360.80" fill="none" stroke="#3a78ea" stroke-width="1.15"/>
<g fill="#333333"><rect x="235.00" y="309.50" width="3.00" height="3.00"/><rect x="251.49" y="309.90" width="3.00" height="3.00"/><rect x="267.98" y="309.90" width="3.00" height="3.00"/><rect x="284.47" y="310.10" width="3.00" height="3.00"/><rect x="300.96" y="310.70" width="3.00" height="3.00"/><rect x="317.45" y="311.00" width="3.00" height="3.00"/><rect x="333.94" y="311.30" width="3.00" height="3.00"/><rect x="350.43" y="311.50" width="3.00" height="3.00"/><rect x="366.92" y="311.70" width="3.00" height="3.00"/><rect x="383.41" y="311.90" width="3.00" height="3.00"/><rect x="399.90" y="312.10" width="3.00" height="3.00"/></g>
<g fill="#ff2a30"><circle cx="236.50" cy="311.00" r="1.50"/><circle cx="252.99" cy="312.00" r="1.50"/><circle cx="269.48" cy="313.40" r="1.50"/><circle cx="285.97" cy="315.10" r="1.50"/><circle cx="302.46" cy="316.50" r="1.50"/><circle cx="318.95" cy="317.90" r="1.50"/><circle cx="335.44" cy="319.10" r="1.50"/><circle cx="351.93" cy="320.90" r="1.50"/><circle cx="368.42" cy="322.80" r="1.50"/><circle cx="384.91" cy="326.10" r="1.50"/><circle cx="401.40" cy="360.80" r="1.50"/></g>
<g fill="#1a5ce0"><path d="M236.50 308.96L238.40 312.36L234.60 312.36Z"/><path d="M252.99 313.06L254.89 316.46L251.09 316.46Z"/><path d="M269.48 322.36L271.38 325.76L267.58 325.76Z"/><path d="M285.97 328.56L287.87 331.96L284.07 331.96Z"/><path d="M302.46 337.56L304.36 340.96L300.56 340.96Z"/><path d="M318.95 344.86L320.85 348.26L317.05 348.26Z"/><path d="M335.44 347.36L337.34 350.76L333.54 350.76Z"/><path d="M351.93 355.46L353.83 358.86L350.03 358.86Z"/><path d="M368.42 356.16L370.32 359.56L366.52 359.56Z"/><path d="M384.91 357.06L386.81 360.46L383.01 360.46Z"/><path d="M401.40 358.76L403.30 362.16L399.50 362.16Z"/></g>
</g>
<rect x="236.50" y="284.30" width="164.90" height="80.00" fill="none" stroke="#505050" stroke-width="1.25"/>
<path d="M234.70 364.00H236.50M234.70 352.57H236.50M234.70 341.14H236.50M234.70 329.71H236.50M234.70 318.29H236.50M234.70 306.86H236.50M234.70 295.43H236.50M234.70 284.00H236.50M235.30 358.29H236.50M235.30 346.86H236.50M235.30 335.43H236.50M235.30 324.00H236.50M235.30 312.57H236.50M235.30 301.14H236.50M235.30 289.71H236.50" stroke="#505050" stroke-width="0.9"/>
<text class="t" x="235.30" y="366.60" font-size="8.4" text-anchor="end" lengthAdjust="spacingAndGlyphs" textLength="15.69">4.2M</text>
<text class="t" x="235.30" y="355.17" font-size="8.4" text-anchor="end" lengthAdjust="spacingAndGlyphs" textLength="15.69">4.4M</text>
<text class="t" x="235.30" y="343.74" font-size="8.4" text-anchor="end" lengthAdjust="spacingAndGlyphs" textLength="15.69">4.6M</text>
<text class="t" x="235.30" y="332.31" font-size="8.4" text-anchor="end" lengthAdjust="spacingAndGlyphs" textLength="15.69">4.8M</text>
<text class="t" x="235.30" y="320.89" font-size="8.4" text-anchor="end" lengthAdjust="spacingAndGlyphs" textLength="15.69">5.0M</text>
<text class="t" x="235.30" y="309.46" font-size="8.4" text-anchor="end" lengthAdjust="spacingAndGlyphs" textLength="15.69">5.2M</text>
<text class="t" x="235.30" y="298.03" font-size="8.4" text-anchor="end" lengthAdjust="spacingAndGlyphs" textLength="15.69">5.4M</text>
<text class="t" x="235.30" y="286.60" font-size="8.4" text-anchor="end" lengthAdjust="spacingAndGlyphs" textLength="15.69">5.6M</text>
<text class="t" x="401.10" y="292.30" font-size="8.0" text-anchor="end" lengthAdjust="spacingAndGlyphs" textLength="12.00">(a4)</text>
<rect x="238.50" y="367.00" width="28.7" height="21.0" fill="#fff" stroke="#d0d0d0" stroke-width="0.6"/>
<path d="M239.50 370.40H250.20" stroke="#858585" stroke-width="1.3"/>
<path d="M239.50 377.20H250.20" stroke="#ff7a7a" stroke-width="1.3"/>
<path d="M239.50 384.20H250.20" stroke="#4a8cf0" stroke-width="1.3"/>
<g fill="#333333"><rect x="242.10" y="368.00" width="4.80" height="4.80"/></g>
<g fill="#ff2a30"><circle cx="244.50" cy="377.20" r="2.80"/></g>
<g fill="#1a5ce0"><path d="M244.50 380.42L247.60 386.72L241.40 386.72Z"/></g>
<text class="s" x="250.90" y="372.60" font-size="6.4" lengthAdjust="spacingAndGlyphs" textLength="9.20">HVs</text>
<text class="s" x="250.90" y="379.40" font-size="6.4" lengthAdjust="spacingAndGlyphs" textLength="12.80">Mixed</text>
<text class="s" x="250.90" y="386.40" font-size="6.4" lengthAdjust="spacingAndGlyphs" textLength="16.20">i-Mixed</text>
<clipPath id="kb4"><rect x="236.50" y="364.30" width="164.90" height="80.00"/></clipPath><g clip-path="url(#kb4)">
<polyline points="236.50,395.10 252.99,394.50 269.48,394.70 285.97,395.30 302.46,395.50 318.95,396.20 335.44,396.50 351.93,396.70 368.42,397.10 384.91,397.40 401.40,397.40" fill="none" stroke="#666666" stroke-width="1.15"/>
<polyline points="236.50,395.10 252.99,395.50 269.48,396.50 285.97,397.60 302.46,398.60 318.95,399.60 335.44,401.30 351.93,403.10 368.42,404.80 384.91,407.50 401.40,438.60" fill="none" stroke="#ff5a5a" stroke-width="1.15"/>
<polyline points="236.50,395.10 252.99,396.10 269.48,411.30 285.97,417.10 302.46,421.60 318.95,428.40 335.44,433.10 351.93,434.20 368.42,438.60 384.91,438.60 401.40,440.80" fill="none" stroke="#3a78ea" stroke-width="1.15"/>
<g fill="#333333"><rect x="235.00" y="393.60" width="3.00" height="3.00"/><rect x="251.49" y="393.00" width="3.00" height="3.00"/><rect x="267.98" y="393.20" width="3.00" height="3.00"/><rect x="284.47" y="393.80" width="3.00" height="3.00"/><rect x="300.96" y="394.00" width="3.00" height="3.00"/><rect x="317.45" y="394.70" width="3.00" height="3.00"/><rect x="333.94" y="395.00" width="3.00" height="3.00"/><rect x="350.43" y="395.20" width="3.00" height="3.00"/><rect x="366.92" y="395.60" width="3.00" height="3.00"/><rect x="383.41" y="395.90" width="3.00" height="3.00"/><rect x="399.90" y="395.90" width="3.00" height="3.00"/></g>
<g fill="#ff2a30"><circle cx="236.50" cy="395.10" r="1.50"/><circle cx="252.99" cy="395.50" r="1.50"/><circle cx="269.48" cy="396.50" r="1.50"/><circle cx="285.97" cy="397.60" r="1.50"/><circle cx="302.46" cy="398.60" r="1.50"/><circle cx="318.95" cy="399.60" r="1.50"/><circle cx="335.44" cy="401.30" r="1.50"/><circle cx="351.93" cy="403.10" r="1.50"/><circle cx="368.42" cy="404.80" r="1.50"/><circle cx="384.91" cy="407.50" r="1.50"/><circle cx="401.40" cy="438.60" r="1.50"/></g>
<g fill="#1a5ce0"><path d="M236.50 393.06L238.40 396.46L234.60 396.46Z"/><path d="M252.99 394.06L254.89 397.46L251.09 397.46Z"/><path d="M269.48 409.26L271.38 412.66L267.58 412.66Z"/><path d="M285.97 415.06L287.87 418.46L284.07 418.46Z"/><path d="M302.46 419.56L304.36 422.96L300.56 422.96Z"/><path d="M318.95 426.36L320.85 429.76L317.05 429.76Z"/><path d="M335.44 431.06L337.34 434.46L333.54 434.46Z"/><path d="M351.93 432.16L353.83 435.56L350.03 435.56Z"/><path d="M368.42 436.56L370.32 439.96L366.52 439.96Z"/><path d="M384.91 436.56L386.81 439.96L383.01 439.96Z"/><path d="M401.40 438.76L403.30 442.16L399.50 442.16Z"/></g>
</g>
<rect x="236.50" y="364.30" width="164.90" height="80.00" fill="none" stroke="#505050" stroke-width="1.25"/>
<path d="M234.70 444.00H236.50M234.70 433.33H236.50M234.70 422.67H236.50M234.70 412.00H236.50M234.70 401.33H236.50M234.70 390.67H236.50M234.70 380.00H236.50M234.70 369.33H236.50M235.30 438.67H236.50M235.30 428.00H236.50M235.30 417.33H236.50M235.30 406.67H236.50M235.30 396.00H236.50M235.30 385.33H236.50M235.30 374.67H236.50" stroke="#505050" stroke-width="0.9"/>
<text class="t" x="235.30" y="446.60" font-size="8.4" text-anchor="end" lengthAdjust="spacingAndGlyphs" textLength="15.69">4.2M</text>
<text class="t" x="235.30" y="435.93" font-size="8.4" text-anchor="end" lengthAdjust="spacingAndGlyphs" textLength="15.69">4.4M</text>
<text class="t" x="235.30" y="425.27" font-size="8.4" text-anchor="end" lengthAdjust="spacingAndGlyphs" textLength="15.69">4.6M</text>
<text class="t" x="235.30" y="414.60" font-size="8.4" text-anchor="end" lengthAdjust="spacingAndGlyphs" textLength="15.69">4.8M</text>
<text class="t" x="235.30" y="403.93" font-size="8.4" text-anchor="end" lengthAdjust="spacingAndGlyphs" textLength="15.69">5.0M</text>
<text class="t" x="235.30" y="393.27" font-size="8.4" text-anchor="end" lengthAdjust="spacingAndGlyphs" textLength="15.69">5.2M</text>
<text class="t" x="235.30" y="382.60" font-size="8.4" text-anchor="end" lengthAdjust="spacingAndGlyphs" textLength="15.69">5.4M</text>
<text class="t" x="235.30" y="371.93" font-size="8.4" text-anchor="end" lengthAdjust="spacingAndGlyphs" textLength="15.69">5.6M</text>
<text class="t" x="401.10" y="372.30" font-size="8.0" text-anchor="end" lengthAdjust="spacingAndGlyphs" textLength="12.00">(b4)</text>
<rect x="238.50" y="447.00" width="28.7" height="21.0" fill="#fff" stroke="#d0d0d0" stroke-width="0.6"/>
<path d="M239.50 450.40H250.20" stroke="#858585" stroke-width="1.3"/>
<path d="M239.50 457.20H250.20" stroke="#ff7a7a" stroke-width="1.3"/>
<path d="M239.50 464.20H250.20" stroke="#4a8cf0" stroke-width="1.3"/>
<g fill="#333333"><rect x="242.10" y="448.00" width="4.80" height="4.80"/></g>
<g fill="#ff2a30"><circle cx="244.50" cy="457.20" r="2.80"/></g>
<g fill="#1a5ce0"><path d="M244.50 460.42L247.60 466.72L241.40 466.72Z"/></g>
<text class="s" x="250.90" y="452.60" font-size="6.4" lengthAdjust="spacingAndGlyphs" textLength="9.20">HVs</text>
<text class="s" x="250.90" y="459.40" font-size="6.4" lengthAdjust="spacingAndGlyphs" textLength="12.80">Mixed</text>
<text class="s" x="250.90" y="466.40" font-size="6.4" lengthAdjust="spacingAndGlyphs" textLength="16.20">i-Mixed</text>
<clipPath id="kc4"><rect x="236.50" y="444.30" width="164.90" height="80.00"/></clipPath><g clip-path="url(#kc4)">
<polyline points="236.50,474.50 252.99,474.30 269.48,474.30 285.97,474.70 302.46,475.10 318.95,475.40 335.44,475.80 351.93,476.00 368.42,476.50 384.91,476.50 401.40,476.70" fill="none" stroke="#666666" stroke-width="1.15"/>
<polyline points="236.50,474.50 252.99,475.10 269.48,476.30 285.97,477.80 302.46,479.20 318.95,480.80 335.44,482.20 351.93,483.70 368.42,485.30 384.91,488.60 401.40,520.80" fill="none" stroke="#ff5a5a" stroke-width="1.15"/>
<polyline points="236.50,474.50 252.99,481.90 269.48,486.50 285.97,492.10 302.46,497.10 318.95,504.50 335.44,513.80 351.93,518.00 368.42,518.20 384.91,518.60 401.40,520.80" fill="none" stroke="#3a78ea" stroke-width="1.15"/>
<g fill="#333333"><rect x="235.00" y="473.00" width="3.00" height="3.00"/><rect x="251.49" y="472.80" width="3.00" height="3.00"/><rect x="267.98" y="472.80" width="3.00" height="3.00"/><rect x="284.47" y="473.20" width="3.00" height="3.00"/><rect x="300.96" y="473.60" width="3.00" height="3.00"/><rect x="317.45" y="473.90" width="3.00" height="3.00"/><rect x="333.94" y="474.30" width="3.00" height="3.00"/><rect x="350.43" y="474.50" width="3.00" height="3.00"/><rect x="366.92" y="475.00" width="3.00" height="3.00"/><rect x="383.41" y="475.00" width="3.00" height="3.00"/><rect x="399.90" y="475.20" width="3.00" height="3.00"/></g>
<g fill="#ff2a30"><circle cx="236.50" cy="474.50" r="1.50"/><circle cx="252.99" cy="475.10" r="1.50"/><circle cx="269.48" cy="476.30" r="1.50"/><circle cx="285.97" cy="477.80" r="1.50"/><circle cx="302.46" cy="479.20" r="1.50"/><circle cx="318.95" cy="480.80" r="1.50"/><circle cx="335.44" cy="482.20" r="1.50"/><circle cx="351.93" cy="483.70" r="1.50"/><circle cx="368.42" cy="485.30" r="1.50"/><circle cx="384.91" cy="488.60" r="1.50"/><circle cx="401.40" cy="520.80" r="1.50"/></g>
<g fill="#1a5ce0"><path d="M236.50 472.46L238.40 475.86L234.60 475.86Z"/><path d="M252.99 479.86L254.89 483.26L251.09 483.26Z"/><path d="M269.48 484.46L271.38 487.86L267.58 487.86Z"/><path d="M285.97 490.06L287.87 493.46L284.07 493.46Z"/><path d="M302.46 495.06L304.36 498.46L300.56 498.46Z"/><path d="M318.95 502.46L320.85 505.86L317.05 505.86Z"/><path d="M335.44 511.76L337.34 515.16L333.54 515.16Z"/><path d="M351.93 515.96L353.83 519.36L350.03 519.36Z"/><path d="M368.42 516.16L370.32 519.56L366.52 519.56Z"/><path d="M384.91 516.56L386.81 519.96L383.01 519.96Z"/><path d="M401.40 518.76L403.30 522.16L399.50 522.16Z"/></g>
</g>
<rect x="236.50" y="444.30" width="164.90" height="80.00" fill="none" stroke="#505050" stroke-width="1.25"/>
<path d="M234.70 524.00H236.50M234.70 513.33H236.50M234.70 502.67H236.50M234.70 492.00H236.50M234.70 481.33H236.50M234.70 470.67H236.50M234.70 460.00H236.50M234.70 449.33H236.50M235.30 518.67H236.50M235.30 508.00H236.50M235.30 497.33H236.50M235.30 486.67H236.50M235.30 476.00H236.50M235.30 465.33H236.50M235.30 454.67H236.50" stroke="#505050" stroke-width="0.9"/>
<text class="t" x="235.30" y="526.60" font-size="8.4" text-anchor="end" lengthAdjust="spacingAndGlyphs" textLength="15.69">4.2M</text>
<text class="t" x="235.30" y="515.93" font-size="8.4" text-anchor="end" lengthAdjust="spacingAndGlyphs" textLength="15.69">4.4M</text>
<text class="t" x="235.30" y="505.27" font-size="8.4" text-anchor="end" lengthAdjust="spacingAndGlyphs" textLength="15.69">4.6M</text>
<text class="t" x="235.30" y="494.60" font-size="8.4" text-anchor="end" lengthAdjust="spacingAndGlyphs" textLength="15.69">4.8M</text>
<text class="t" x="235.30" y="483.93" font-size="8.4" text-anchor="end" lengthAdjust="spacingAndGlyphs" textLength="15.69">5.0M</text>
<text class="t" x="235.30" y="473.27" font-size="8.4" text-anchor="end" lengthAdjust="spacingAndGlyphs" textLength="15.69">5.2M</text>
<text class="t" x="235.30" y="462.60" font-size="8.4" text-anchor="end" lengthAdjust="spacingAndGlyphs" textLength="15.69">5.4M</text>
<text class="t" x="235.30" y="451.93" font-size="8.4" text-anchor="end" lengthAdjust="spacingAndGlyphs" textLength="15.69">5.6M</text>
<text class="t" x="401.10" y="452.30" font-size="8.0" text-anchor="end" lengthAdjust="spacingAndGlyphs" textLength="12.00">(c4)</text>
<text class="t" x="31.00" y="261.50" font-size="8.2" text-anchor="middle" lengthAdjust="spacingAndGlyphs" textLength="9.69">0.0</text>
<text class="t" x="47.47" y="261.50" font-size="8.2" text-anchor="middle" lengthAdjust="spacingAndGlyphs" textLength="9.69">0.1</text>
<text class="t" x="63.94" y="261.50" font-size="8.2" text-anchor="middle" lengthAdjust="spacingAndGlyphs" textLength="9.69">0.2</text>
<text class="t" x="80.41" y="261.50" font-size="8.2" text-anchor="middle" lengthAdjust="spacingAndGlyphs" textLength="9.69">0.3</text>
<text class="t" x="96.88" y="261.50" font-size="8.2" text-anchor="middle" lengthAdjust="spacingAndGlyphs" textLength="9.69">0.4</text>
<text class="t" x="113.35" y="261.50" font-size="8.2" text-anchor="middle" lengthAdjust="spacingAndGlyphs" textLength="9.69">0.5</text>
<text class="t" x="129.82" y="261.50" font-size="8.2" text-anchor="middle" lengthAdjust="spacingAndGlyphs" textLength="9.69">0.6</text>
<text class="t" x="146.29" y="261.50" font-size="8.2" text-anchor="middle" lengthAdjust="spacingAndGlyphs" textLength="9.69">0.7</text>
<text class="t" x="162.76" y="261.50" font-size="8.2" text-anchor="middle" lengthAdjust="spacingAndGlyphs" textLength="9.69">0.8</text>
<text class="t" x="179.23" y="261.50" font-size="8.2" text-anchor="middle" lengthAdjust="spacingAndGlyphs" textLength="9.69">0.9</text>
<text class="t" x="195.70" y="261.50" font-size="8.2" text-anchor="middle" lengthAdjust="spacingAndGlyphs" textLength="9.69">1.0</text>
<path d="M30.70 253.00V254.80M47.17 253.00V254.80M63.64 253.00V254.80M80.11 253.00V254.80M96.58 253.00V254.80M113.05 253.00V254.80M129.52 253.00V254.80M145.99 253.00V254.80M162.46 253.00V254.80M178.93 253.00V254.80M195.40 253.00V254.80M38.94 253.00V254.20M55.41 253.00V254.20M71.88 253.00V254.20M88.34 253.00V254.20M104.82 253.00V254.20M121.29 253.00V254.20M137.76 253.00V254.20M154.23 253.00V254.20M170.69 253.00V254.20M187.16 253.00V254.20" stroke="#505050" stroke-width="0.9"/>
<text class="t" x="31.00" y="532.80" font-size="8.2" text-anchor="middle" lengthAdjust="spacingAndGlyphs" textLength="9.69">0.0</text>
<text class="t" x="47.47" y="532.80" font-size="8.2" text-anchor="middle" lengthAdjust="spacingAndGlyphs" textLength="9.69">0.1</text>
<text class="t" x="63.94" y="532.80" font-size="8.2" text-anchor="middle" lengthAdjust="spacingAndGlyphs" textLength="9.69">0.2</text>
<text class="t" x="80.41" y="532.80" font-size="8.2" text-anchor="middle" lengthAdjust="spacingAndGlyphs" textLength="9.69">0.3</text>
<text class="t" x="96.88" y="532.80" font-size="8.2" text-anchor="middle" lengthAdjust="spacingAndGlyphs" textLength="9.69">0.4</text>
<text class="t" x="113.35" y="532.80" font-size="8.2" text-anchor="middle" lengthAdjust="spacingAndGlyphs" textLength="9.69">0.5</text>
<text class="t" x="129.82" y="532.80" font-size="8.2" text-anchor="middle" lengthAdjust="spacingAndGlyphs" textLength="9.69">0.6</text>
<text class="t" x="146.29" y="532.80" font-size="8.2" text-anchor="middle" lengthAdjust="spacingAndGlyphs" textLength="9.69">0.7</text>
<text class="t" x="162.76" y="532.80" font-size="8.2" text-anchor="middle" lengthAdjust="spacingAndGlyphs" textLength="9.69">0.8</text>
<text class="t" x="179.23" y="532.80" font-size="8.2" text-anchor="middle" lengthAdjust="spacingAndGlyphs" textLength="9.69">0.9</text>
<text class="t" x="195.70" y="532.80" font-size="8.2" text-anchor="middle" lengthAdjust="spacingAndGlyphs" textLength="9.69">1.0</text>
<path d="M30.70 524.30V526.10M47.17 524.30V526.10M63.64 524.30V526.10M80.11 524.30V526.10M96.58 524.30V526.10M113.05 524.30V526.10M129.52 524.30V526.10M145.99 524.30V526.10M162.46 524.30V526.10M178.93 524.30V526.10M195.40 524.30V526.10M38.94 524.30V525.50M55.41 524.30V525.50M71.88 524.30V525.50M88.34 524.30V525.50M104.82 524.30V525.50M121.29 524.30V525.50M137.76 524.30V525.50M154.23 524.30V525.50M170.69 524.30V525.50M187.16 524.30V525.50" stroke="#505050" stroke-width="0.9"/>
<text class="t" x="236.80" y="261.50" font-size="8.2" text-anchor="middle" lengthAdjust="spacingAndGlyphs" textLength="9.69">0.0</text>
<text class="t" x="253.29" y="261.50" font-size="8.2" text-anchor="middle" lengthAdjust="spacingAndGlyphs" textLength="9.69">0.1</text>
<text class="t" x="269.78" y="261.50" font-size="8.2" text-anchor="middle" lengthAdjust="spacingAndGlyphs" textLength="9.69">0.2</text>
<text class="t" x="286.27" y="261.50" font-size="8.2" text-anchor="middle" lengthAdjust="spacingAndGlyphs" textLength="9.69">0.3</text>
<text class="t" x="302.76" y="261.50" font-size="8.2" text-anchor="middle" lengthAdjust="spacingAndGlyphs" textLength="9.69">0.4</text>
<text class="t" x="319.25" y="261.50" font-size="8.2" text-anchor="middle" lengthAdjust="spacingAndGlyphs" textLength="9.69">0.5</text>
<text class="t" x="335.74" y="261.50" font-size="8.2" text-anchor="middle" lengthAdjust="spacingAndGlyphs" textLength="9.69">0.6</text>
<text class="t" x="352.23" y="261.50" font-size="8.2" text-anchor="middle" lengthAdjust="spacingAndGlyphs" textLength="9.69">0.7</text>
<text class="t" x="368.72" y="261.50" font-size="8.2" text-anchor="middle" lengthAdjust="spacingAndGlyphs" textLength="9.69">0.8</text>
<text class="t" x="385.21" y="261.50" font-size="8.2" text-anchor="middle" lengthAdjust="spacingAndGlyphs" textLength="9.69">0.9</text>
<text class="t" x="401.70" y="261.50" font-size="8.2" text-anchor="middle" lengthAdjust="spacingAndGlyphs" textLength="9.69">1.0</text>
<path d="M236.50 253.00V254.80M252.99 253.00V254.80M269.48 253.00V254.80M285.97 253.00V254.80M302.46 253.00V254.80M318.95 253.00V254.80M335.44 253.00V254.80M351.93 253.00V254.80M368.42 253.00V254.80M384.91 253.00V254.80M401.40 253.00V254.80M244.75 253.00V254.20M261.24 253.00V254.20M277.73 253.00V254.20M294.21 253.00V254.20M310.70 253.00V254.20M327.19 253.00V254.20M343.69 253.00V254.20M360.17 253.00V254.20M376.66 253.00V254.20M393.15 253.00V254.20" stroke="#505050" stroke-width="0.9"/>
<text class="t" x="236.80" y="532.80" font-size="8.2" text-anchor="middle" lengthAdjust="spacingAndGlyphs" textLength="9.69">0.0</text>
<text class="t" x="253.29" y="532.80" font-size="8.2" text-anchor="middle" lengthAdjust="spacingAndGlyphs" textLength="9.69">0.1</text>
<text class="t" x="269.78" y="532.80" font-size="8.2" text-anchor="middle" lengthAdjust="spacingAndGlyphs" textLength="9.69">0.2</text>
<text class="t" x="286.27" y="532.80" font-size="8.2" text-anchor="middle" lengthAdjust="spacingAndGlyphs" textLength="9.69">0.3</text>
<text class="t" x="302.76" y="532.80" font-size="8.2" text-anchor="middle" lengthAdjust="spacingAndGlyphs" textLength="9.69">0.4</text>
<text class="t" x="319.25" y="532.80" font-size="8.2" text-anchor="middle" lengthAdjust="spacingAndGlyphs" textLength="9.69">0.5</text>
<text class="t" x="335.74" y="532.80" font-size="8.2" text-anchor="middle" lengthAdjust="spacingAndGlyphs" textLength="9.69">0.6</text>
<text class="t" x="352.23" y="532.80" font-size="8.2" text-anchor="middle" lengthAdjust="spacingAndGlyphs" textLength="9.69">0.7</text>
<text class="t" x="368.72" y="532.80" font-size="8.2" text-anchor="middle" lengthAdjust="spacingAndGlyphs" textLength="9.69">0.8</text>
<text class="t" x="385.21" y="532.80" font-size="8.2" text-anchor="middle" lengthAdjust="spacingAndGlyphs" textLength="9.69">0.9</text>
<text class="t" x="401.70" y="532.80" font-size="8.2" text-anchor="middle" lengthAdjust="spacingAndGlyphs" textLength="9.69">1.0</text>
<path d="M236.50 524.30V526.10M252.99 524.30V526.10M269.48 524.30V526.10M285.97 524.30V526.10M302.46 524.30V526.10M318.95 524.30V526.10M335.44 524.30V526.10M351.93 524.30V526.10M368.42 524.30V526.10M384.91 524.30V526.10M401.40 524.30V526.10M244.75 524.30V525.50M261.24 524.30V525.50M277.73 524.30V525.50M294.21 524.30V525.50M310.70 524.30V525.50M327.19 524.30V525.50M343.69 524.30V525.50M360.17 524.30V525.50M376.66 524.30V525.50M393.15 524.30V525.50" stroke="#505050" stroke-width="0.9"/>
<text class="b" x="104.00" y="272.70" font-size="9.4" lengthAdjust="spacingAndGlyphs" textLength="18.30">Sdyn</text>
<text class="b" x="310.20" y="273.30" font-size="9.4" lengthAdjust="spacingAndGlyphs" textLength="18.30">Sdyn</text>
<text class="b" x="104.00" y="543.20" font-size="9.4" lengthAdjust="spacingAndGlyphs" textLength="18.30">Sdyn</text>
<text class="b" x="310.20" y="543.70" font-size="9.4" lengthAdjust="spacingAndGlyphs" textLength="18.30">Sdyn</text>
<text class="t" x="174.80" y="271.60" font-size="7.8" lengthAdjust="spacingAndGlyphs" textLength="22.30">(100%)</text>
<text class="t" x="378.00" y="271.80" font-size="7.8" lengthAdjust="spacingAndGlyphs" textLength="22.30">(100%)</text>
<text class="t" x="175.50" y="541.40" font-size="7.8" lengthAdjust="spacingAndGlyphs" textLength="22.30">(100%)</text>
<text class="t" x="382.20" y="541.40" font-size="7.8" lengthAdjust="spacingAndGlyphs" textLength="22.30">(100%)</text>
<text class="b" x="33.00" y="10.50" font-size="8.8" lengthAdjust="spacingAndGlyphs" textLength="12.10">N/S</text>
<text class="b" x="236.60" y="10.50" font-size="8.8" lengthAdjust="spacingAndGlyphs" textLength="12.90">C/S</text>
<text class="b" x="32.00" y="279.60" font-size="8.8" lengthAdjust="spacingAndGlyphs" textLength="5.60">N</text>
<text class="b" x="236.00" y="281.10" font-size="8.8" lengthAdjust="spacingAndGlyphs" textLength="22.60">W*S/F</text>
<text class="b" transform="translate(10.10,130.40) rotate(-90)" font-size="8.3" text-anchor="middle" lengthAdjust="spacingAndGlyphs" textLength="17.40">Flux</text>
<text class="b" transform="translate(214.40,136.25) rotate(-90)" font-size="9.5" text-anchor="middle" lengthAdjust="spacingAndGlyphs" textLength="64.70">Average Speed</text>
<text class="b" transform="translate(10.40,410.25) rotate(-90)" font-size="9.5" text-anchor="middle" lengthAdjust="spacingAndGlyphs" textLength="68.50">Vehicle Number</text>
<text class="b" transform="translate(213.90,411.40) rotate(-90)" font-size="8.9" text-anchor="middle" lengthAdjust="spacingAndGlyphs" textLength="114.60">Consumption Per Unit Flux</text>
</svg>
</body></html>
